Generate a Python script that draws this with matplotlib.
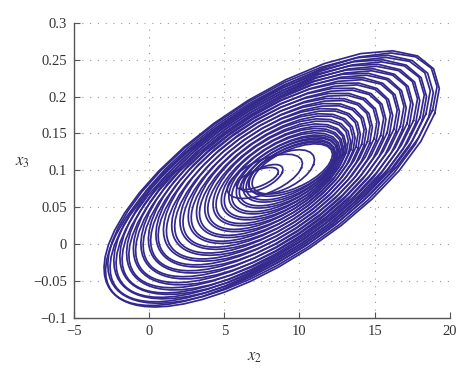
import numpy as np
import matplotlib.pyplot as plt

plt.rcParams['font.family'] = 'serif'
plt.rcParams['font.serif'] = ['Liberation Serif', 'DejaVu Serif']
plt.rcParams['mathtext.fontset'] = 'stix'

# Loops of the phase portrait (x2, x3), outer to inner:
# x2 extent (left/right), x3 extent (bottom/top) and the tilt phase of each loop
loop_left = [-3.0, -2.9, -2.75, -2.6, -2.35, -2.2, -1.95, -1.8, -1.5, -1.35,
             -1.05, -0.9, -0.55, -0.4, -0.05, 0.1, 0.45, 0.6, 0.95, 1.15,
             1.5, 1.7, 2.05, 2.25, 2.6, 2.8, 3.15, 3.35, 3.7, 3.9,
             4.25, 4.45, 4.8, 5.0, 5.3, 5.5, 5.8, 6.0, 6.25, 6.45,
             6.65, 6.85, 5.8, 6.1, 5.2, 6.6]
loop_right = [19.3, 19.15, 18.9, 18.7, 18.45, 18.3, 18.0, 17.85, 17.55, 17.4,
              17.1, 16.95, 16.65, 16.5, 16.2, 16.05, 15.75, 15.6, 15.3, 15.15,
              14.85, 14.7, 14.45, 14.3, 14.05, 13.9, 13.7, 13.55, 13.4, 13.25,
              13.1, 13.0, 12.9, 12.8, 12.7, 12.6, 12.55, 12.5, 12.4, 12.35,
              12.3, 12.2, 8.6, 8.9, 10.2, 11.0]
loop_bottom = [-0.085, -0.083, -0.080, -0.078, -0.074, -0.072, -0.068, -0.066, -0.062, -0.059,
               -0.055, -0.052, -0.047, -0.044, -0.039, -0.036, -0.031, -0.028, -0.023, -0.020,
               -0.015, -0.012, -0.007, -0.004, 0.001, 0.004, 0.009, 0.012, 0.017, 0.020,
               0.025, 0.028, 0.033, 0.036, 0.041, 0.044, 0.049, 0.052, 0.057, 0.060,
               0.065, 0.068, 0.074, 0.071, 0.062, 0.068]
loop_top = [0.262, 0.259, 0.256, 0.253, 0.250, 0.247, 0.244, 0.241, 0.238, 0.235,
            0.232, 0.229, 0.226, 0.223, 0.219, 0.216, 0.212, 0.209, 0.205, 0.202,
            0.198, 0.195, 0.191, 0.188, 0.184, 0.181, 0.177, 0.174, 0.170, 0.167,
            0.163, 0.160, 0.157, 0.154, 0.151, 0.148, 0.146, 0.144, 0.142, 0.140,
            0.138, 0.136, 0.104, 0.108, 0.122, 0.128]
loop_phase = [0.80, 0.76, 0.81, 0.77, 0.82, 0.78, 0.83, 0.79, 0.84, 0.80,
              0.85, 0.81, 0.86, 0.82, 0.87, 0.83, 0.88, 0.84, 0.89, 0.85,
              0.90, 0.86, 0.91, 0.87, 0.92, 0.88, 0.93, 0.89, 0.94, 0.90,
              0.95, 0.91, 0.96, 0.92, 0.97, 0.93, 0.98, 0.94, 0.99, 0.95,
              1.00, 0.96, 0.90, 0.90, 0.95, 1.00]

line_color = '#33288c'

fig = plt.figure(figsize=(4.74, 3.72), dpi=100)
ax = fig.add_axes([0.156, 0.145, 0.793, 0.794])

# parameter along each loop, coarse near the upper right like the original sampling
tau = np.linspace(0, 2 * np.pi, 41)
t = tau + 0.6 * np.sin(tau - 0.4)

for l, r, b, tp, ph in zip(loop_left, loop_right, loop_bottom, loop_top, loop_phase):
    cx, ax_ = (l + r) / 2, (r - l) / 2
    cy, ay = (b + tp) / 2, (tp - b) / 2
    x = cx + ax_ * np.cos(t)
    y = cy + ay * np.cos(t - ph)
    ax.plot(x, y, color=line_color, lw=1.25)

ax.set_xlim(-5, 20)
ax.set_ylim(-0.1, 0.3)
ax.set_xticks([-5, 0, 5, 10, 15, 20])
ax.set_yticks([-0.1, -0.05, 0, 0.05, 0.1, 0.15, 0.2, 0.25, 0.3])
ax.set_yticklabels(['\u22120.1', '\u22120.05', '0', '0.05', '0.1', '0.15', '0.2', '0.25', '0.3'])
ax.set_xticklabels(['\u22125', '0', '5', '10', '15', '20'])

ax.grid(True, color='#9a9a9a', linestyle=(0, (1, 6)), linewidth=0.8)
ax.set_axisbelow(True)
for side in ['top', 'right']:
    ax.spines[side].set_visible(False)
for side in ['left', 'bottom']:
    ax.spines[side].set_color('#555555')
    ax.spines[side].set_linewidth(1.0)
ax.tick_params(direction='in', length=4, width=0.8, colors='#555555',
               labelcolor='#333333', labelsize=10.5, pad=5)

ax.set_xlabel('$x_2$', fontsize=12, color='#333333', labelpad=1)
ax.set_ylabel('$x_3$', fontsize=12, color='#333333', rotation=0)
ax.yaxis.set_label_coords(-0.138, 0.5)
ax.xaxis.set_label_coords(0.48, -0.105)

fig.savefig('out.png', dpi=100)
